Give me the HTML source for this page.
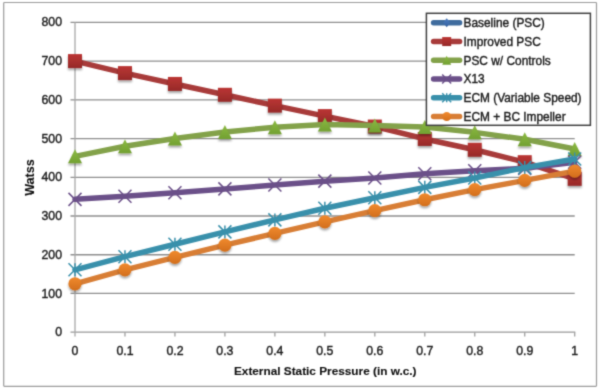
<!DOCTYPE html>
<html><head><meta charset="utf-8"><style>
html,body{margin:0;padding:0;background:#fff;}
svg{display:block;}
.t{font-family:"Liberation Sans",sans-serif;font-size:12.3px;fill:#1e1e1e;stroke:#1e1e1e;stroke-width:0.4px;}
.l{font-size:11.9px;}
.b{font-family:"Liberation Sans",sans-serif;font-size:11.8px;font-weight:bold;fill:#111;stroke:#111;stroke-width:0.12px;}
.w{font-size:12.6px;}
</style></head><body>
<svg width="600" height="389" viewBox="0 0 600 389">
<defs><linearGradient id="gred" x1="0" y1="0" x2="0" y2="1"><stop offset="0" stop-color="#bb3533"/><stop offset="1" stop-color="#962a29"/></linearGradient><linearGradient id="ggreen" x1="0" y1="0" x2="0" y2="1"><stop offset="0" stop-color="#8cba42"/><stop offset="1" stop-color="#72a032"/></linearGradient><linearGradient id="gorange" x1="0" y1="0" x2="0" y2="1"><stop offset="0" stop-color="#f08a2e"/><stop offset="1" stop-color="#d26e1c"/></linearGradient><linearGradient id="gblue" x1="0" y1="0" x2="0" y2="1"><stop offset="0" stop-color="#4a7cc0"/><stop offset="1" stop-color="#34609e"/></linearGradient><filter id="sh" x="-50%" y="-50%" width="200%" height="200%"><feDropShadow dx="0" dy="2" stdDeviation="1.2" flood-color="#000" flood-opacity="0.35"/></filter><filter id="f" x="0" y="0" width="600" height="389" filterUnits="userSpaceOnUse" color-interpolation-filters="sRGB"><feConvolveMatrix order="3" kernelMatrix="0.02560 0.10880 0.02560 0.10880 0.46240 0.10880 0.02560 0.10880 0.02560" divisor="1" edgeMode="duplicate"/></filter></defs>
<g filter="url(#f)">
<rect x="0" y="0" width="600" height="389" fill="#fff"/>
<rect x="3.7" y="2.5" width="592.8" height="383.8" rx="0.8" fill="#fff" stroke="#9c9c9c" stroke-width="1.2"/>
<line x1="70.5" y1="293.47" x2="574.70" y2="293.47" stroke="#8e8e8e" stroke-width="1.3"/>
<line x1="70.5" y1="254.74" x2="574.70" y2="254.74" stroke="#8e8e8e" stroke-width="1.3"/>
<line x1="70.5" y1="216.01" x2="574.70" y2="216.01" stroke="#8e8e8e" stroke-width="1.3"/>
<line x1="70.5" y1="177.28" x2="574.70" y2="177.28" stroke="#8e8e8e" stroke-width="1.3"/>
<line x1="70.5" y1="138.55" x2="574.70" y2="138.55" stroke="#8e8e8e" stroke-width="1.3"/>
<line x1="70.5" y1="99.82" x2="574.70" y2="99.82" stroke="#8e8e8e" stroke-width="1.3"/>
<line x1="70.5" y1="61.09" x2="574.70" y2="61.09" stroke="#8e8e8e" stroke-width="1.3"/>
<line x1="70.5" y1="22.36" x2="574.70" y2="22.36" stroke="#8e8e8e" stroke-width="1.3"/>
<line x1="70.5" y1="332.20" x2="575.30" y2="332.20" stroke="#999" stroke-width="1.3"/>
<line x1="75" y1="22.36" x2="75" y2="336.6" stroke="#a8a8a8" stroke-width="1.3"/>
<line x1="124.97" y1="332.20" x2="124.97" y2="336.6" stroke="#a0a0a0" stroke-width="1.3"/>
<line x1="174.94" y1="332.20" x2="174.94" y2="336.6" stroke="#a0a0a0" stroke-width="1.3"/>
<line x1="224.91" y1="332.20" x2="224.91" y2="336.6" stroke="#a0a0a0" stroke-width="1.3"/>
<line x1="274.88" y1="332.20" x2="274.88" y2="336.6" stroke="#a0a0a0" stroke-width="1.3"/>
<line x1="324.85" y1="332.20" x2="324.85" y2="336.6" stroke="#a0a0a0" stroke-width="1.3"/>
<line x1="374.82" y1="332.20" x2="374.82" y2="336.6" stroke="#a0a0a0" stroke-width="1.3"/>
<line x1="424.79" y1="332.20" x2="424.79" y2="336.6" stroke="#a0a0a0" stroke-width="1.3"/>
<line x1="474.76" y1="332.20" x2="474.76" y2="336.6" stroke="#a0a0a0" stroke-width="1.3"/>
<line x1="524.73" y1="332.20" x2="524.73" y2="336.6" stroke="#a0a0a0" stroke-width="1.3"/>
<line x1="574.70" y1="332.20" x2="574.70" y2="336.6" stroke="#a0a0a0" stroke-width="1.3"/>
<text x="62" y="336.30" text-anchor="end" class="t">0</text>
<text x="62" y="297.57" text-anchor="end" class="t">100</text>
<text x="62" y="258.84" text-anchor="end" class="t">200</text>
<text x="62" y="220.11" text-anchor="end" class="t">300</text>
<text x="62" y="181.38" text-anchor="end" class="t">400</text>
<text x="62" y="142.65" text-anchor="end" class="t">500</text>
<text x="62" y="103.92" text-anchor="end" class="t">600</text>
<text x="62" y="65.19" text-anchor="end" class="t">700</text>
<text x="62" y="26.46" text-anchor="end" class="t">800</text>
<text x="75.00" y="354.5" text-anchor="middle" class="t">0</text>
<text x="124.97" y="354.5" text-anchor="middle" class="t">0.1</text>
<text x="174.94" y="354.5" text-anchor="middle" class="t">0.2</text>
<text x="224.91" y="354.5" text-anchor="middle" class="t">0.3</text>
<text x="274.88" y="354.5" text-anchor="middle" class="t">0.4</text>
<text x="324.85" y="354.5" text-anchor="middle" class="t">0.5</text>
<text x="374.82" y="354.5" text-anchor="middle" class="t">0.6</text>
<text x="424.79" y="354.5" text-anchor="middle" class="t">0.7</text>
<text x="474.76" y="354.5" text-anchor="middle" class="t">0.8</text>
<text x="524.73" y="354.5" text-anchor="middle" class="t">0.9</text>
<text x="574.70" y="354.5" text-anchor="middle" class="t">1</text>
<text x="325.2" y="375" text-anchor="middle" class="b">External Static Pressure (in w.c.)</text>
<text transform="translate(34.3,177.5) rotate(-90)" text-anchor="middle" class="b w">Watss</text>
<polyline points="75.00,61.09 124.97,73.10 174.94,83.94 224.91,94.79 274.88,105.63 324.85,116.09 374.82,126.54 424.79,138.94 474.76,149.78 524.73,162.18 574.70,178.83" fill="none" stroke="#a83b3a" stroke-width="5.5" stroke-linejoin="round" stroke-linecap="round"/>
<g filter="url(#sh)"><rect x="68.00" y="54.09" width="14" height="14" fill="url(#gred)"/><rect x="117.97" y="66.10" width="14" height="14" fill="url(#gred)"/><rect x="167.94" y="76.94" width="14" height="14" fill="url(#gred)"/><rect x="217.91" y="87.79" width="14" height="14" fill="url(#gred)"/><rect x="267.88" y="98.63" width="14" height="14" fill="url(#gred)"/><rect x="317.85" y="109.09" width="14" height="14" fill="url(#gred)"/><rect x="367.82" y="119.54" width="14" height="14" fill="url(#gred)"/><rect x="417.79" y="131.94" width="14" height="14" fill="url(#gred)"/><rect x="467.76" y="142.78" width="14" height="14" fill="url(#gred)"/><rect x="517.73" y="155.18" width="14" height="14" fill="url(#gred)"/><rect x="567.70" y="171.83" width="14" height="14" fill="url(#gred)"/></g>
<polyline points="75.00,156.37 124.97,146.30 174.94,138.55 224.91,131.97 274.88,127.32 324.85,124.61 374.82,125.38 424.79,126.93 474.76,132.35 524.73,139.32 574.70,149.01" fill="none" stroke="#83a24a" stroke-width="5.5" stroke-linejoin="round" stroke-linecap="round"/>
<g filter="url(#sh)"><polygon points="75.00,149.37 82.00,163.37 68.00,163.37" fill="url(#ggreen)"/><polygon points="124.97,139.30 131.97,153.30 117.97,153.30" fill="url(#ggreen)"/><polygon points="174.94,131.55 181.94,145.55 167.94,145.55" fill="url(#ggreen)"/><polygon points="224.91,124.97 231.91,138.97 217.91,138.97" fill="url(#ggreen)"/><polygon points="274.88,120.32 281.88,134.32 267.88,134.32" fill="url(#ggreen)"/><polygon points="324.85,117.61 331.85,131.61 317.85,131.61" fill="url(#ggreen)"/><polygon points="374.82,118.38 381.82,132.38 367.82,132.38" fill="url(#ggreen)"/><polygon points="424.79,119.93 431.79,133.93 417.79,133.93" fill="url(#ggreen)"/><polygon points="474.76,125.35 481.76,139.35 467.76,139.35" fill="url(#ggreen)"/><polygon points="524.73,132.32 531.73,146.32 517.73,146.32" fill="url(#ggreen)"/><polygon points="574.70,142.01 581.70,156.01 567.70,156.01" fill="url(#ggreen)"/></g>
<polyline points="75.00,199.36 124.97,196.26 174.94,192.77 224.91,188.90 274.88,185.03 324.85,181.15 374.82,178.05 424.79,173.79 474.76,170.70 524.73,168.37 574.70,162.18" fill="none" stroke="#6b5089" stroke-width="5.5" stroke-linejoin="round" stroke-linecap="round"/>
<path d="M68.50,192.86L81.50,205.86M81.50,192.86L68.50,205.86" stroke="#6b5089" stroke-width="1.5" fill="none"/>
<path d="M118.47,189.76L131.47,202.76M131.47,189.76L118.47,202.76" stroke="#6b5089" stroke-width="1.5" fill="none"/>
<path d="M168.44,186.27L181.44,199.27M181.44,186.27L168.44,199.27" stroke="#6b5089" stroke-width="1.5" fill="none"/>
<path d="M218.41,182.40L231.41,195.40M231.41,182.40L218.41,195.40" stroke="#6b5089" stroke-width="1.5" fill="none"/>
<path d="M268.38,178.53L281.38,191.53M281.38,178.53L268.38,191.53" stroke="#6b5089" stroke-width="1.5" fill="none"/>
<path d="M318.35,174.65L331.35,187.65M331.35,174.65L318.35,187.65" stroke="#6b5089" stroke-width="1.5" fill="none"/>
<path d="M368.32,171.55L381.32,184.55M381.32,171.55L368.32,184.55" stroke="#6b5089" stroke-width="1.5" fill="none"/>
<path d="M418.29,167.29L431.29,180.29M431.29,167.29L418.29,180.29" stroke="#6b5089" stroke-width="1.5" fill="none"/>
<path d="M468.26,164.20L481.26,177.20M481.26,164.20L468.26,177.20" stroke="#6b5089" stroke-width="1.5" fill="none"/>
<path d="M518.23,161.87L531.23,174.87M531.23,161.87L518.23,174.87" stroke="#6b5089" stroke-width="1.5" fill="none"/>
<path d="M568.20,155.68L581.20,168.68M581.20,155.68L568.20,168.68" stroke="#6b5089" stroke-width="1.5" fill="none"/>
<polyline points="75.00,269.84 124.97,256.68 174.94,244.28 224.91,231.89 274.88,219.88 324.85,208.26 374.82,197.81 424.79,187.35 474.76,178.05 524.73,167.60 574.70,159.08" fill="none" stroke="#3990ab" stroke-width="5.5" stroke-linejoin="round" stroke-linecap="round"/>
<path d="M68.50,263.34L81.50,276.34M81.50,263.34L68.50,276.34M75.00,263.34L75.00,276.34" stroke="#3990ab" stroke-width="1.5" fill="none"/>
<path d="M118.47,250.18L131.47,263.18M131.47,250.18L118.47,263.18M124.97,250.18L124.97,263.18" stroke="#3990ab" stroke-width="1.5" fill="none"/>
<path d="M168.44,237.78L181.44,250.78M181.44,237.78L168.44,250.78M174.94,237.78L174.94,250.78" stroke="#3990ab" stroke-width="1.5" fill="none"/>
<path d="M218.41,225.39L231.41,238.39M231.41,225.39L218.41,238.39M224.91,225.39L224.91,238.39" stroke="#3990ab" stroke-width="1.5" fill="none"/>
<path d="M268.38,213.38L281.38,226.38M281.38,213.38L268.38,226.38M274.88,213.38L274.88,226.38" stroke="#3990ab" stroke-width="1.5" fill="none"/>
<path d="M318.35,201.76L331.35,214.76M331.35,201.76L318.35,214.76M324.85,201.76L324.85,214.76" stroke="#3990ab" stroke-width="1.5" fill="none"/>
<path d="M368.32,191.31L381.32,204.31M381.32,191.31L368.32,204.31M374.82,191.31L374.82,204.31" stroke="#3990ab" stroke-width="1.5" fill="none"/>
<path d="M418.29,180.85L431.29,193.85M431.29,180.85L418.29,193.85M424.79,180.85L424.79,193.85" stroke="#3990ab" stroke-width="1.5" fill="none"/>
<path d="M468.26,171.55L481.26,184.55M481.26,171.55L468.26,184.55M474.76,171.55L474.76,184.55" stroke="#3990ab" stroke-width="1.5" fill="none"/>
<path d="M518.23,161.10L531.23,174.10M531.23,161.10L518.23,174.10M524.73,161.10L524.73,174.10" stroke="#3990ab" stroke-width="1.5" fill="none"/>
<path d="M568.20,152.58L581.20,165.58M581.20,152.58L568.20,165.58M574.70,152.58L574.70,165.58" stroke="#3990ab" stroke-width="1.5" fill="none"/>
<polyline points="75.00,283.79 124.97,269.84 174.94,257.45 224.91,245.06 274.88,233.44 324.85,221.82 374.82,210.59 424.79,199.74 474.76,189.67 524.73,180.38 574.70,171.08" fill="none" stroke="#d87e35" stroke-width="5.5" stroke-linejoin="round" stroke-linecap="round"/>
<g filter="url(#sh)"><circle cx="75.00" cy="283.79" r="6.6" fill="url(#gorange)"/><circle cx="124.97" cy="269.84" r="6.6" fill="url(#gorange)"/><circle cx="174.94" cy="257.45" r="6.6" fill="url(#gorange)"/><circle cx="224.91" cy="245.06" r="6.6" fill="url(#gorange)"/><circle cx="274.88" cy="233.44" r="6.6" fill="url(#gorange)"/><circle cx="324.85" cy="221.82" r="6.6" fill="url(#gorange)"/><circle cx="374.82" cy="210.59" r="6.6" fill="url(#gorange)"/><circle cx="424.79" cy="199.74" r="6.6" fill="url(#gorange)"/><circle cx="474.76" cy="189.67" r="6.6" fill="url(#gorange)"/><circle cx="524.73" cy="180.38" r="6.6" fill="url(#gorange)"/><circle cx="574.70" cy="171.08" r="6.6" fill="url(#gorange)"/></g>
<rect x="426.4" y="13.3" width="164" height="112" fill="#fff" stroke="#404040" stroke-width="1.5"/>
<line x1="433.6" y1="22.80" x2="459.6" y2="22.80" stroke="#3f6c9e" stroke-width="5.5" stroke-linecap="round"/>
<polygon points="446.70,18.30 450.20,22.80 446.70,27.30 443.20,22.80" fill="url(#gblue)"/>
<text x="463.5" y="27.00" class="t l">Baseline (PSC)</text>
<line x1="433.6" y1="41.56" x2="459.6" y2="41.56" stroke="#a83b3a" stroke-width="5.5" stroke-linecap="round"/>
<rect x="442.20" y="37.06" width="9" height="9" fill="url(#gred)"/>
<text x="463.5" y="45.76" class="t l">Improved PSC</text>
<line x1="433.6" y1="60.32" x2="459.6" y2="60.32" stroke="#83a24a" stroke-width="5.5" stroke-linecap="round"/>
<polygon points="446.70,55.82 451.20,64.82 442.20,64.82" fill="url(#ggreen)"/>
<text x="463.5" y="64.52" class="t l">PSC w/ Controls</text>
<line x1="433.6" y1="79.08" x2="459.6" y2="79.08" stroke="#6b5089" stroke-width="5.5" stroke-linecap="round"/>
<path d="M442.20,74.58L451.20,83.58M451.20,74.58L442.20,83.58" stroke="#6b5089" stroke-width="1.4" fill="none"/>
<text x="463.5" y="83.28" class="t l">X13</text>
<line x1="433.6" y1="97.84" x2="459.6" y2="97.84" stroke="#3990ab" stroke-width="5.5" stroke-linecap="round"/>
<path d="M442.20,93.34L451.20,102.34M451.20,93.34L442.20,102.34M446.70,93.34L446.70,102.34" stroke="#3990ab" stroke-width="1.4" fill="none"/>
<text x="463.5" y="102.04" class="t l">ECM (Variable Speed)</text>
<line x1="433.6" y1="116.60" x2="459.6" y2="116.60" stroke="#d87e35" stroke-width="5.5" stroke-linecap="round"/>
<circle cx="446.70" cy="116.60" r="4.5" fill="url(#gorange)"/>
<text x="463.5" y="120.80" class="t l">ECM + BC Impeller</text>
</g>
</svg>
</body></html>
